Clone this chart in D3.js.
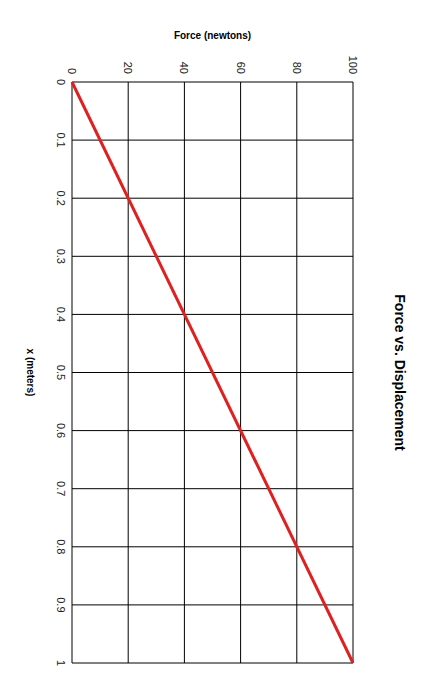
<!DOCTYPE html>
<html><head><meta charset="utf-8">
<script src="https://cdn.jsdelivr.net/npm/d3@7"></script>
<style>body{margin:0;background:#fff}text{font-family:"Liberation Sans",Arial,sans-serif}</style>
</head><body>
<svg id="c" width="433" height="700"></svg>
<script>
const xValues=[0,1];
const forceValues=[0,100];
const xTicks=[0,0.1,0.2,0.3,0.4,0.5,0.6,0.7,0.8,0.9,1];
const yTicks=[0,20,40,60,80,100];
const svg=d3.select("#c");
const g=svg.append("g").attr("transform","translate(433,0) rotate(90)");
const x=d3.scaleLinear().domain([0,1]).range([82,663]);
const y=d3.scaleLinear().domain([0,100]).range([361,80]);
g.selectAll(".vx").data(xTicks).enter().append("line").attr("x1",d=>x(d)).attr("x2",d=>x(d)).attr("y1",y(0)).attr("y2",y(100)).attr("stroke","#000").attr("stroke-width",1);
g.selectAll(".hy").data(yTicks).enter().append("line").attr("x1",x(0)).attr("x2",x(1)).attr("y1",d=>y(d)).attr("y2",d=>y(d)).attr("stroke","#000").attr("stroke-width",1);
g.selectAll(".tx").data(xTicks).enter().append("text").attr("x",d=>x(d)).attr("y",y(0)+15).attr("text-anchor","middle").attr("font-size",11).attr("fill","#222").text(d=>d);
g.selectAll(".ty").data(yTicks).enter().append("text").attr("x",x(0)-8).attr("y",d=>y(d)+4).attr("text-anchor","end").attr("font-size",11).attr("fill","#222").text(d=>d);
g.append("path").datum(xValues.map((v,i)=>[v,forceValues[i]])).attr("d",d3.line().x(d=>x(d[0])).y(d=>y(d[1]))).attr("stroke","#e02020").attr("stroke-width",3).attr("fill","none");
g.append("text").attr("x",(x(0)+x(1))/2).attr("y",38).attr("text-anchor","middle").attr("font-size",14).attr("font-weight","bold").text("Force vs. Displacement");
g.append("text").attr("x",(x(0)+x(1))/2).attr("y",406).attr("text-anchor","middle").attr("font-size",10).attr("font-weight","bold").text("x (meters)");
g.append("text").attr("transform",`translate(39,${(y(0)+y(100))/2}) rotate(-90)`).attr("text-anchor","middle").attr("font-size",10).attr("font-weight","bold").text("Force (newtons)");
</script></body></html>
